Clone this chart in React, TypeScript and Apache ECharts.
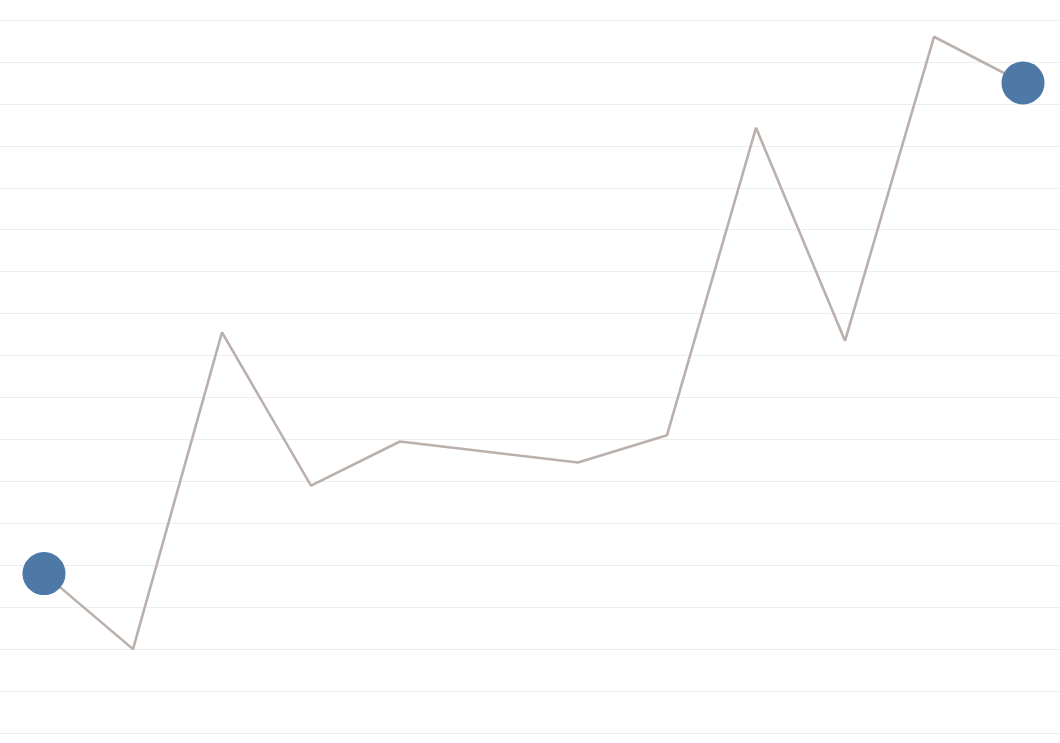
import React, { useEffect, useRef } from "react";
import * as echarts from "echarts";

const months = ["Jan", "Feb", "Mar", "Apr", "May", "Jun", "Jul", "Aug", "Sep", "Oct", "Nov", "Dec"];
const values = [38, 20, 95.5, 59, 69.5, 67, 64.5, 71, 144.3, 93.5, 166, 155];
const highlighted = [0, 11];

const App: React.FC = () => {
  const chartRef = useRef<HTMLDivElement>(null);

  useEffect(() => {
    document.body.style.margin = "0";
    if (!chartRef.current) return;
    const chart = echarts.init(chartRef.current, undefined, { renderer: "svg" });

    const last = months.length - 1;
    const data = values.map((v, i) =>
      highlighted.includes(i)
        ? { value: [i, v], name: months[i], symbol: "circle", symbolSize: 43, itemStyle: { color: "#4e79a7" } }
        : { value: [i, v], name: months[i], symbol: "none" }
    );

    chart.setOption({
      animation: false,
      grid: { left: 0, right: 0, top: 20, bottom: 10 },
      xAxis: {
        type: "value",
        min: -44 / 89,
        max: last + 37 / 89,
        show: false,
      },
      yAxis: {
        type: "value",
        min: 0,
        max: 170,
        interval: 10,
        axisLine: { show: false },
        axisTick: { show: false },
        axisLabel: { show: false },
        splitLine: { lineStyle: { color: "#eeeeee", width: 1 } },
      },
      series: [
        {
          type: "line",
          data,
          showSymbol: true,
          lineStyle: { color: "#bab0ac", width: 2.6 },
          itemStyle: { color: "#4e79a7" },
        },
      ],
    });

    const onResize = () => chart.resize();
    window.addEventListener("resize", onResize);
    return () => {
      window.removeEventListener("resize", onResize);
      chart.dispose();
    };
  }, []);

  return <div ref={chartRef} style={{ width: "1060px", height: "743px" }} />;
};

export default App;
